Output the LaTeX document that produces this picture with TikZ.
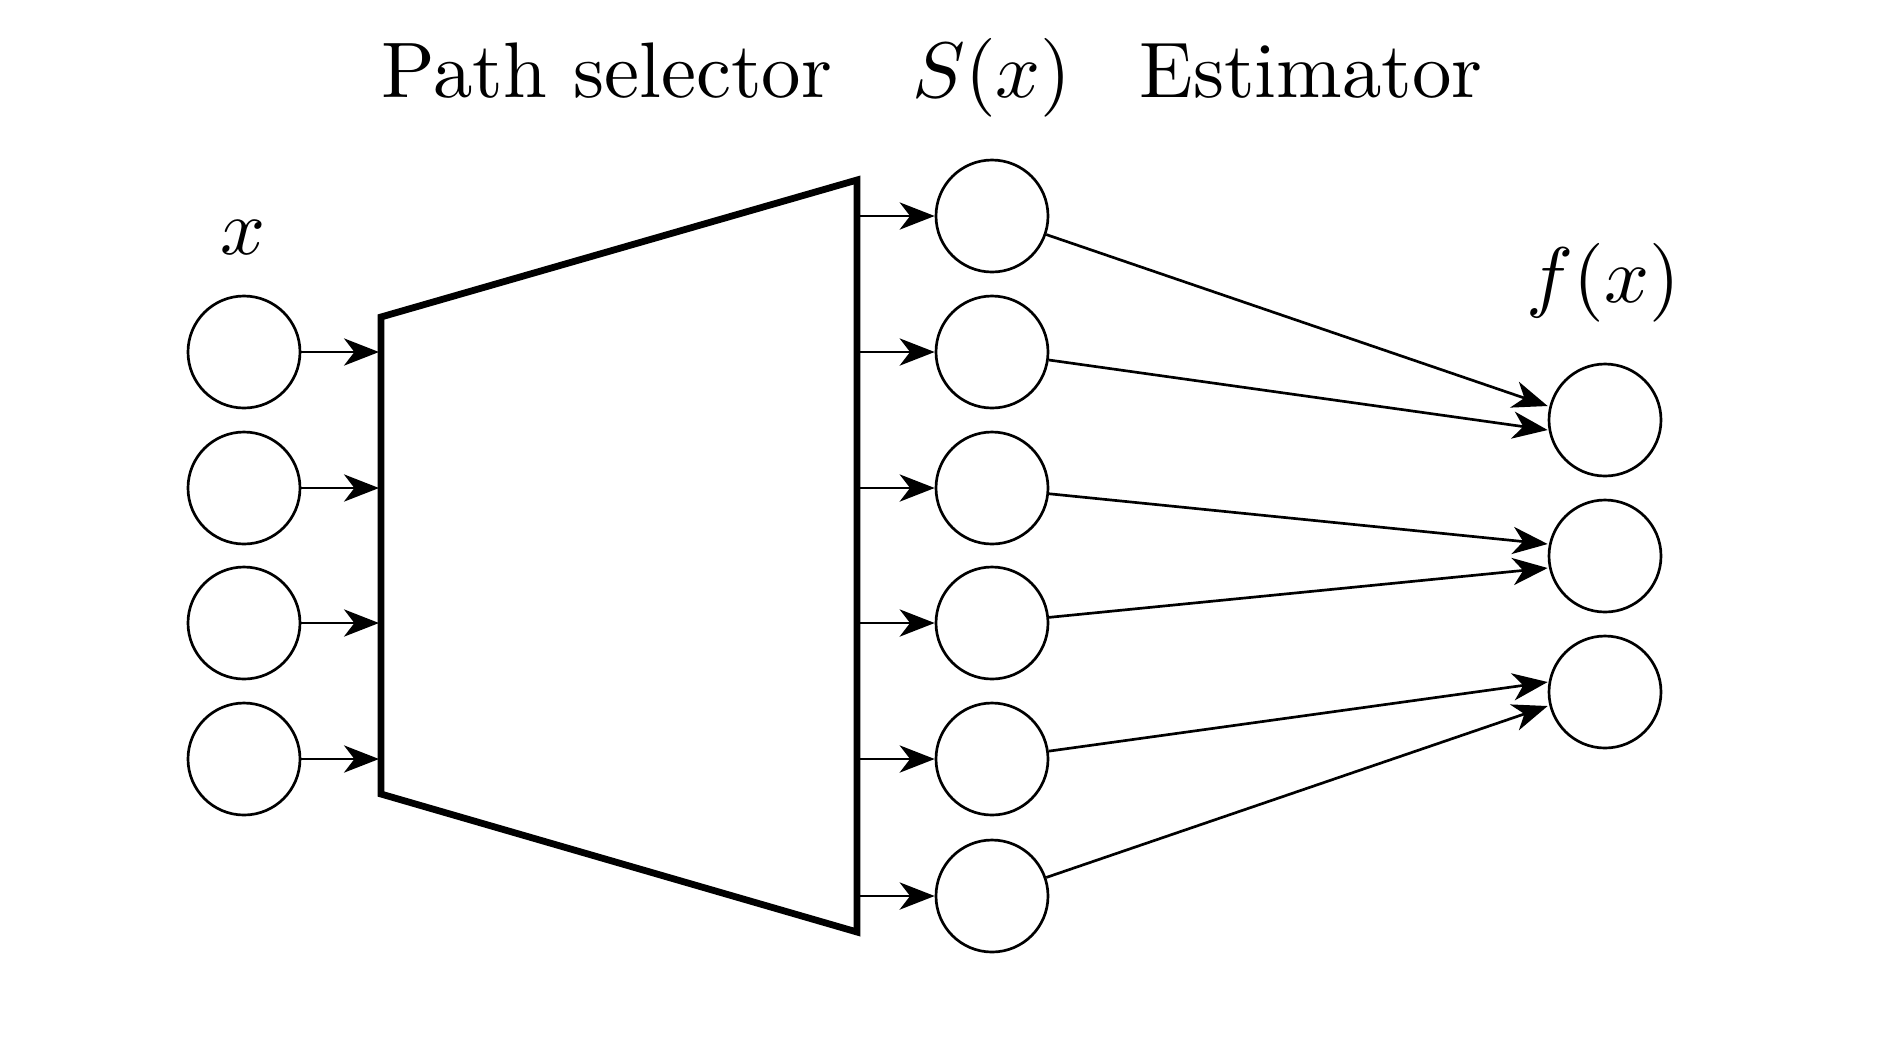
\documentclass[tikz,border=0pt]{standalone}
\usetikzlibrary{arrows.meta}
\begin{document}
\begin{tikzpicture}[x=0.25pt,y=-0.25pt,
  neuron/.style={circle,draw,line width=0.67pt,minimum size=28pt,inner sep=0pt},
  conn/.style={line width=0.67pt,-{Stealth[length=8.75pt,width=6.8pt,inset=2.6pt]}},
  lbl/.style={anchor=base,inner sep=0pt,scale=1.97,font=\fontsize{10pt}{12pt}\selectfont},
  trap/.style={draw,line width=1.7pt,line join=miter}]
\useasboundingbox (0,0) rectangle (1896,1052);
% labels
\node[lbl] (tps) at (607,97) {Path selector};
\node[lbl] (tsx) at (992,97) {$S(x)$};
\node[lbl] (test) at (1311,97) {Estimator};
\node[lbl] (tx) at (243,254) {$x$};
\node[lbl] (tfx) at (1603,302) {$f(x)$};
% trapezoid
\coordinate (tl) at (381,317);
\coordinate (bl) at (381,794);
\coordinate (tr) at (857,180);
\coordinate (br) at (857,932);
\draw[trap] (tl) -- (tr) -- (br) -- (bl) -- cycle;
% input neurons
\foreach \i/\y in {1/352,2/488,3/623,4/759}{
  \node[neuron] (x\i) at (244,\y) {};
  \coordinate (xin\i) at (379,\y);
  \draw[conn] (x\i) -- (xin\i);
}
% middle neurons
\foreach \i/\y in {1/216,2/352,3/488,4/623,5/759,6/896}{
  \node[neuron] (s\i) at (992,\y) {};
  \coordinate (sout\i) at (857,\y);
  \draw[conn] (sout\i) -- (s\i);
}
% output neurons
\foreach \i/\y in {1/420,2/556,3/692}{
  \node[neuron] (f\i) at (1605,\y) {};
}
\draw[conn] (s1) -- ([yshift=3.5pt]f1.west);
\draw[conn] (s2) -- ([yshift=-2.5pt]f1.west);
\draw[conn] (s3) -- ([yshift=3pt]f2.west);
\draw[conn] (s4) -- ([yshift=-3pt]f2.west);
\draw[conn] (s5) -- ([yshift=2.5pt]f3.west);
\draw[conn] (s6) -- ([yshift=-3.5pt]f3.west);
\end{tikzpicture}
\end{document}
